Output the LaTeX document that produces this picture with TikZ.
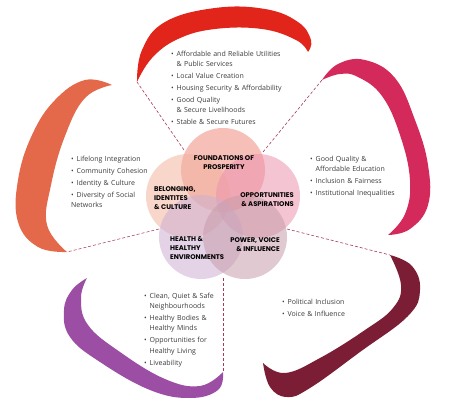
\documentclass[tikz,border=0pt]{standalone}
\usepackage{fontspec}
\setmainfont{Open Sans}
\newfontfamily\lblfont{Poppins}
\definecolor{cred}{HTML}{E1251B}
\definecolor{cpink}{HTML}{D42A5B}
\definecolor{cmaroon}{HTML}{7B1E35}
\definecolor{cpurple}{HTML}{9B4EA3}
\definecolor{corange}{HTML}{E4694A}
\definecolor{csep}{HTML}{A83A55}
\definecolor{txtgray}{HTML}{3A3A3A}
\definecolor{vfound}{HTML}{EE8A7E}
\definecolor{vbelong}{HTML}{F2B49E}
\definecolor{vopp}{HTML}{EC93AE}
\definecolor{vhealth}{HTML}{CDAFD3}
\definecolor{vpower}{HTML}{C79DAA}
\newcommand\itm[1]{\par\hangindent=5.5pt\hangafter=1\noindent\makebox[5.5pt][l]{\textbullet}#1}
\tikzset{
  sepline/.style={draw=csep, dash pattern=on 3pt off 2pt, line width=0.6pt},
  vc/.style={circle, minimum size=84pt, inner sep=0pt, fill opacity=0.55},
  lbl/.style={font=\lblfont\bfseries\fontsize{6.8}{9}\selectfont, inner sep=0pt, text=black},
  blk/.style={font=\fontsize{7}{10.3}\selectfont\setlength\parskip{1.7pt}, text=txtgray, inner sep=0pt, anchor=north west, align=left, text width=140pt},
  smoothband/.style={smooth, tension=0.7},
}
\begin{document}
\begin{tikzpicture}[x=1pt, y=-1pt]
\useasboundingbox (0,0) rectangle (474,412);
% band tips
\coordinate (rA) at (137,82);  \coordinate (rB) at (308,52);
\coordinate (pA) at (322,80);  \coordinate (pB) at (388,235);
\coordinate (mA) at (390,255); \coordinate (mB) at (263,363);
\coordinate (uA) at (223,372); \coordinate (uB) at (87,278);
\coordinate (oA) at (67,252);  \coordinate (oB) at (112,85);
% bands
\fill[cred] plot[smoothband] coordinates {(rA) (142,50) (165,22) (215,8) (265,9) (298,22) (311,40) (rB)}
  -- plot[smoothband] coordinates {(rB) (296,40) (262,29) (215,29) (178,39) (152,58) (rA)} -- cycle;
\fill[cpink] plot[smoothband] coordinates {(pA) (338,64) (365,60) (395,78) (415,120) (428,165) (428,205) (410,229) (pB)}
  -- plot[smoothband] coordinates {(pB) (405,214) (410,180) (400,135) (382,96) (358,77) (340,74) (pA)} -- cycle;
\fill[cmaroon] plot[smoothband] coordinates {(mA) (412,266) (420,290) (408,316) (360,352) (310,388) (287,397) (270,387) (mB)}
  -- plot[smoothband] coordinates {(mB) (285,373) (320,358) (365,330) (393,308) (401,285) (mA)} -- cycle;
\fill[cpurple] plot[smoothband] coordinates {(uA) (218,390) (190,398) (150,390) (100,362) (70,337) (64,310) (72,290) (uB)}
  -- plot[smoothband] coordinates {(uB) (81,298) (88,325) (120,352) (165,379) (200,386) (uA)} -- cycle;
\fill[corange] plot[smoothband] coordinates {(oA) (38,247) (18,222) (18,180) (32,135) (55,100) (85,80) (oB)}
  -- plot[smoothband] coordinates {(oB) (85,98) (65,136) (51,185) (47,225) (oA)} -- cycle;
% dashed separators
\coordinate (s1) at (184,150);
\coordinate (s2) at (263,152);
\coordinate (s3) at (287,229);
\coordinate (s4) at (223,278);
\coordinate (s5) at (159,229);
\draw[sepline] (s1) -- (rA);
\draw[sepline] (s2) -- (pA);
\draw[sepline] (s3) -- (mA);
\draw[sepline] (s4) -- (uA);
\draw[sepline] (s5) -- (oA);
% venn circles
\node[vc, fill=vfound]  (found)  at (223,170) {};
\node[vc, fill=vbelong] (belong) at (188,196) {};
\node[vc, fill=vopp]    (opp)    at (258,196) {};
\node[vc, fill=vhealth] (health) at (201,237) {};
\node[vc, fill=vpower]  (power)  at (245,237) {};
% venn labels
\node[lbl, align=center] (tfound) at (224,162.5) {FOUNDATIONS OF\\PROSPERITY};
\node[lbl, align=left, anchor=west] (tbelong) at (154,198) {BELONGING,\\IDENTITES\\\& CULTURE};
\node[lbl, align=right, anchor=east] (topp) at (294,200) {OPPORTUNITIES\\\& ASPIRATIONS};
\node[lbl, align=left, anchor=west] (thealth) at (170,248) {HEALTH \&\\HEALTHY\\ENVIRONMENTS};
\node[lbl, align=right, anchor=east] (tpower) at (280,244.5) {POWER, VOICE\\\& INFLUENCE};
% text blocks
\node[blk] (bred) at (171,44) {\itm{Affordable and Reliable Utilities\newline \& Public Services}\itm{Local Value Creation}\itm{Housing Security \& Affordability}\itm{Good Quality\newline \& Secure Livelihoods}\itm{Stable \& Secure Futures}};
\node[blk] (borange) at (71,149) {\itm{Lifelong Integration}\itm{Community Cohesion}\itm{Identity \& Culture}\itm{Diversity of Social\newline Networks}};
\node[blk] (bpink) at (310,149) {\itm{Good Quality \&\newline Affordable Education}\itm{Inclusion \& Fairness}\itm{Institutional Inequalities}};
\node[blk] (bpurple) at (144,286) {\itm{Clean, Quiet \& Safe\newline Neighbourhoods}\itm{Healthy Bodies \&\newline Healthy Minds}\itm{Opportunities for\newline Healthy Living}\itm{Liveability}};
\node[blk] (bmaroon) at (282,292) {\itm{Political Inclusion}\itm{Voice \& Influence}};
\end{tikzpicture}
\end{document}
